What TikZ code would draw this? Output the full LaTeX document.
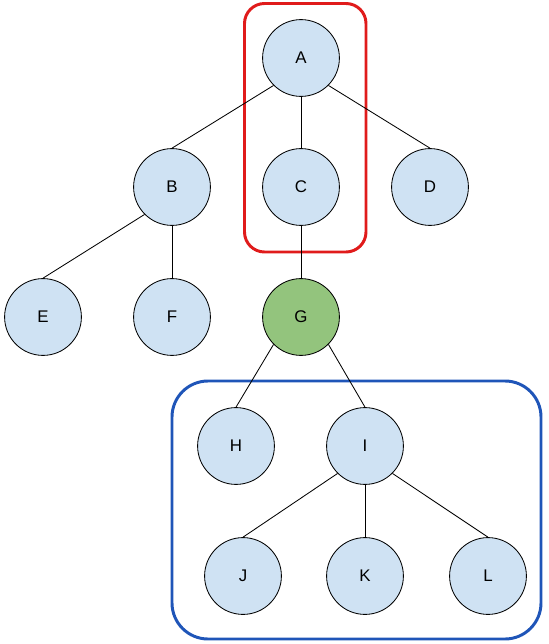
\documentclass[tikz,border=0pt]{standalone}
\usepackage{fontspec}
\setmainfont{Liberation Sans}
\usetikzlibrary{positioning}
\definecolor{nodeblue}{HTML}{CFE2F3}
\definecolor{nodegreen}{HTML}{93C47D}
\definecolor{boxred}{HTML}{E01B1B}
\definecolor{boxblue}{HTML}{1F55B8}
\tikzset{
	vertex/.style = {circle, draw = black, line width = 0.6pt, fill = nodeblue, minimum size = 1.92cm, inner sep = 0pt, font = \fontsize{12}{14}\selectfont},
	edge/.style = {black, line width = 0.6pt}
}

\begin{document}
\begin{tikzpicture}[x = 0.025cm, y = -0.025cm]
					\useasboundingbox (0, 0) rectangle (548, 644);
					\draw [boxred, line width = 2.1pt, rounded corners = 0.5cm] (244.5, 3.5) rectangle (366, 252);
					\draw [boxblue, line width = 2.1pt, rounded corners = 0.9cm] (172, 381) rectangle (541, 639);
					\node [vertex] (A) at (301, 58) {A};
					\node [vertex] (B) at (172, 187) {B};
					\node [vertex] (C) at (301, 187) {C};
					\node [vertex] (D) at (430, 187) {D};
					\node [vertex] (E) at (43, 317) {E};
					\node [vertex] (F) at (172, 317) {F};
					\node [vertex, fill = nodegreen] (G) at (301, 317) {G};
					\node [vertex] (H) at (236, 446) {H};
					\node [vertex] (I) at (365, 446) {I};
					\node [vertex] (J) at (243, 576) {J};
					\node [vertex] (K) at (365, 576) {K};
					\node [vertex] (L) at (488, 576) {L};
					\draw [edge] (A.south west) -- (B.north);
					\draw [edge] (A.south) -- (C.north);
					\draw [edge] (A.south east) -- (D.north);
					\draw [edge] (B.south west) -- (E.north);
					\draw [edge] (B.south) -- (F.north);
					\draw [edge] (C.south) -- (G.north);
					\draw [edge] (G.south west) -- (H.north);
					\draw [edge] (G.south east) -- (I.north);
					\draw [edge] (I.south west) -- (J.north);
					\draw [edge] (I.south) -- (K.north);
					\draw [edge] (I.south east) -- (L.north);
				\end{tikzpicture}
\end{document}
